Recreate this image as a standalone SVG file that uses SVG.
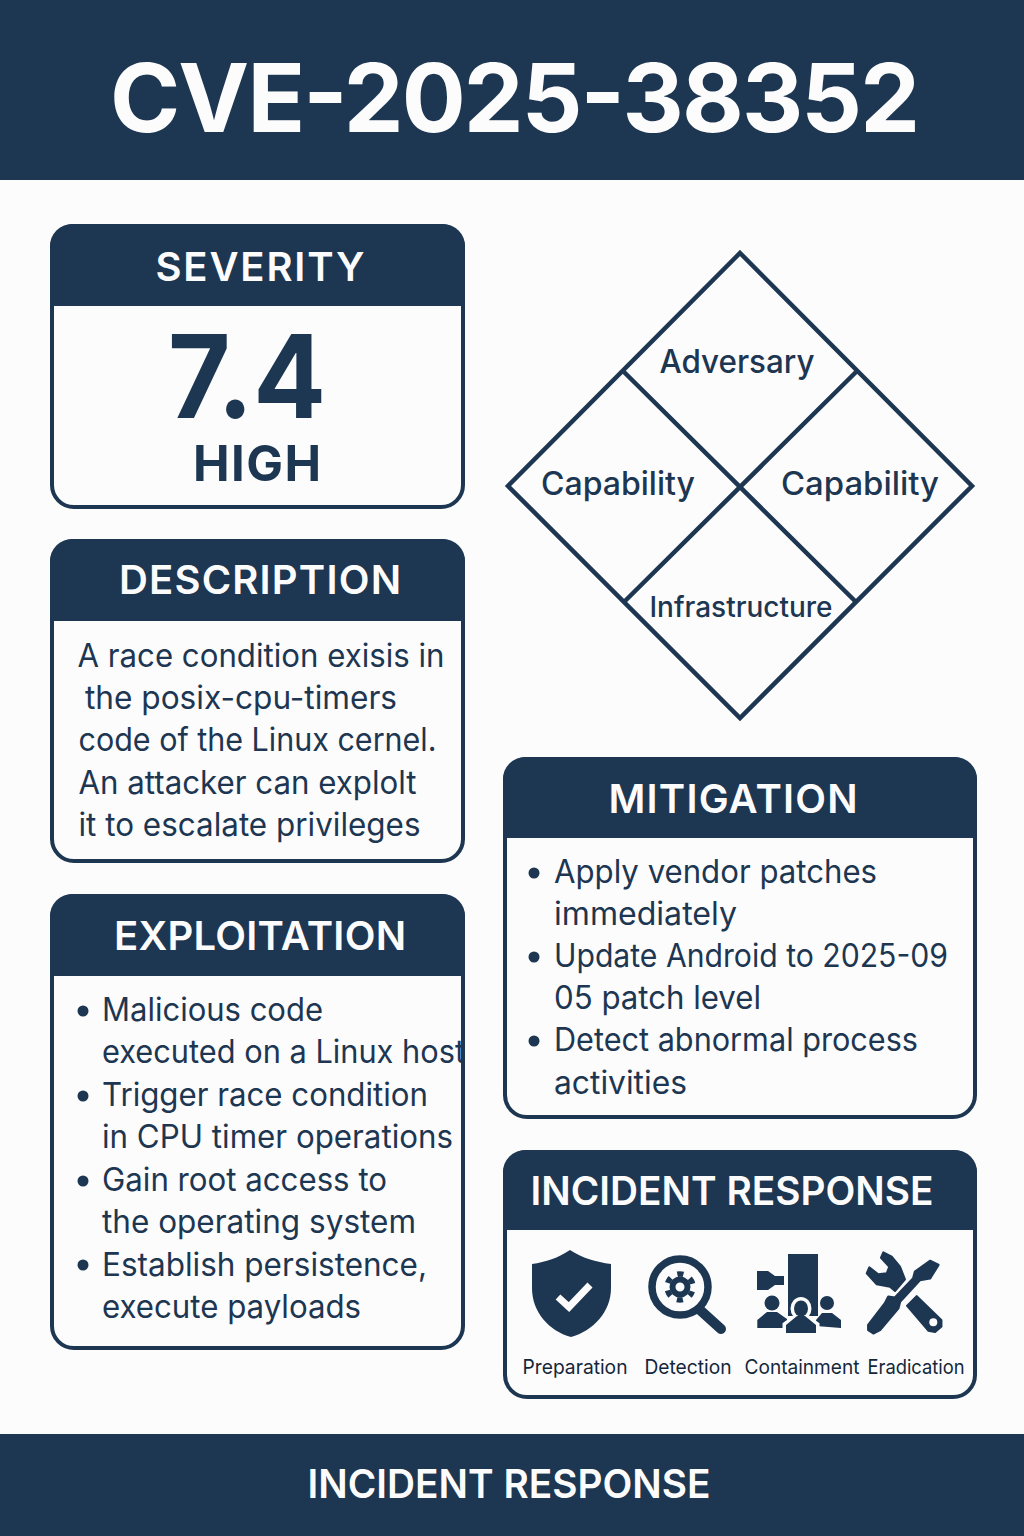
<svg xmlns="http://www.w3.org/2000/svg" width="1024" height="1536" viewBox="0 0 1024 1536">
<style>
text{font-family:Inter,"Noto Sans","Liberation Sans",sans-serif;fill:#1d3651}
.card{fill:#fcfcfd;stroke:#1d3651;stroke-width:4}
.hd{fill:#1d3651}
.ht{fill:#fcfcfd;font-weight:600;font-size:40px;text-anchor:middle}
.body{font-size:32px}
.dot{fill:#1d3651}
.lbl{font-size:32px;font-weight:500;text-anchor:middle}
.ic{font-size:20px;text-anchor:middle;fill:#14263a}
.dl{fill:none;stroke:#1d3651;stroke-width:4.5}
.i{fill:#1d3651}
</style>
<rect width="1024" height="1536" fill="#fcfcfd"/>
<g id="title"><rect width="1024" height="180" fill="#1d3651"/><text x="515" y="132" text-anchor="middle" font-size="95" font-weight="700" style="fill:#fcfcfd" textLength="810" lengthAdjust="spacing">CVE-2025-38352</text></g>
<g id="severity">
<rect class="card" x="52" y="226" width="411" height="281" rx="22"/>
<path class="hd" d="M50 306V246a22 22 0 0 1 22-22H443a22 22 0 0 1 22 22V306Z"/>
<text class="ht" x="260" y="281" textLength="209" lengthAdjust="spacing">SEVERITY</text>
<text x="247" y="418" text-anchor="middle" font-size="116" font-weight="700" textLength="158" lengthAdjust="spacingAndGlyphs">7.4</text>
<text x="257" y="481" text-anchor="middle" font-size="49" font-weight="700" textLength="128" lengthAdjust="spacing">HIGH</text>
</g>
<g id="description">
<rect class="card" x="52" y="541" width="411" height="320" rx="22"/>
<path class="hd" d="M50 621V561a22 22 0 0 1 22-22H443a22 22 0 0 1 22 22V621Z"/>
<text class="ht" x="260" y="594" textLength="282" lengthAdjust="spacing">DESCRIPTION</text>
<text class="body" x="77.500" y="667" textLength="367" lengthAdjust="spacingAndGlyphs">A race condition exisis in</text>
<text class="body" x="85" y="709" textLength="312" lengthAdjust="spacingAndGlyphs">the posix-cpu-timers</text>
<text class="body" x="78.500" y="751" textLength="358" lengthAdjust="spacingAndGlyphs">code of the Linux cernel.</text>
<text class="body" x="78.500" y="794" textLength="338" lengthAdjust="spacingAndGlyphs">An attacker can explolt</text>
<text class="body" x="78.500" y="836" textLength="342" lengthAdjust="spacingAndGlyphs">it to escalate privileges</text>
</g>
<g id="exploitation">
<rect class="card" x="52" y="896" width="411" height="452" rx="22"/>
<path class="hd" d="M50 976V916a22 22 0 0 1 22-22H443a22 22 0 0 1 22 22V976Z"/>
<text class="ht" x="260" y="950" textLength="292" lengthAdjust="spacing">EXPLOITATION</text>
<circle class="dot" cx="83" cy="1011" r="5.500"/><circle class="dot" cx="83" cy="1096" r="5.500"/><circle class="dot" cx="83" cy="1181" r="5.500"/><circle class="dot" cx="83" cy="1265" r="5.500"/>
<text class="body" x="102" y="1021" textLength="221" lengthAdjust="spacingAndGlyphs">Malicious code</text>
<text class="body" x="102" y="1063" textLength="363" lengthAdjust="spacingAndGlyphs">executed on a Linux host</text>
<text class="body" x="102" y="1106" textLength="326" lengthAdjust="spacingAndGlyphs">Trigger race condition</text>
<text class="body" x="102" y="1148" textLength="351" lengthAdjust="spacingAndGlyphs">in CPU timer operations</text>
<text class="body" x="102" y="1191" textLength="285" lengthAdjust="spacingAndGlyphs">Gain root access to</text>
<text class="body" x="102" y="1233" textLength="314" lengthAdjust="spacingAndGlyphs">the operating system</text>
<text class="body" x="102" y="1276" textLength="325" lengthAdjust="spacingAndGlyphs">Establish persistence,</text>
<text class="body" x="102" y="1318" textLength="259" lengthAdjust="spacingAndGlyphs">execute payloads</text>
</g>
<g id="diamond">
<path class="dl" d="M740 253L972 486L740 718L508 486Z"/>
<path class="dl" d="M624 372L856 602M856 372L624 602"/>
<text class="lbl" x="737" y="373" textLength="155" lengthAdjust="spacingAndGlyphs">Adversary</text>
<text class="lbl" x="618" y="495" textLength="154" lengthAdjust="spacingAndGlyphs">Capability</text>
<text class="lbl" x="860" y="495" textLength="158" lengthAdjust="spacingAndGlyphs">Capability</text>
<text class="lbl" x="741" y="617" style="font-size:28px" textLength="183" lengthAdjust="spacingAndGlyphs">Infrastructure</text>
</g>
<g id="mitigation">
<rect class="card" x="505" y="759" width="470" height="358" rx="22"/>
<path class="hd" d="M503 838V779a22 22 0 0 1 22-22H955a22 22 0 0 1 22 22V838Z"/>
<text class="ht" x="733" y="813" textLength="249" lengthAdjust="spacing">MITIGATION</text>
<circle class="dot" cx="534" cy="873" r="5.500"/><circle class="dot" cx="534" cy="957" r="5.500"/><circle class="dot" cx="534" cy="1041" r="5.500"/>
<text class="body" x="554" y="883" textLength="323" lengthAdjust="spacingAndGlyphs">Apply vendor patches</text>
<text class="body" x="554" y="925" textLength="183" lengthAdjust="spacingAndGlyphs">immediately</text>
<text class="body" x="554" y="967" textLength="394" lengthAdjust="spacingAndGlyphs">Update Android to 2025-09</text>
<text class="body" x="554" y="1009" textLength="207" lengthAdjust="spacingAndGlyphs">05 patch level</text>
<text class="body" x="554" y="1051" textLength="364" lengthAdjust="spacingAndGlyphs">Detect abnormal process</text>
<text class="body" x="554" y="1094" textLength="133" lengthAdjust="spacingAndGlyphs">activities</text>
</g>
<g id="incident-response">
<rect class="card" x="505" y="1152" width="470" height="245" rx="22"/>
<path class="hd" d="M503 1230V1172a22 22 0 0 1 22-22H955a22 22 0 0 1 22 22V1230Z"/>
<text class="ht" x="732" y="1205" textLength="403" lengthAdjust="spacingAndGlyphs">INCIDENT RESPONSE</text>
<g id="icon-preparation">
<path class="i" d="M570 1250C582 1258 596 1262 611 1264V1288C611 1312 593 1331 571 1337C549 1331 532 1312 532 1288V1264C546 1262 558 1258 570 1250Z"/>
<path d="M558 1297L569 1307L590 1285" fill="none" stroke="#fcfcfd" stroke-width="7"/>
</g>
<g id="icon-detection">
<circle cx="680" cy="1287" r="28" fill="none" stroke="#1d3651" stroke-width="7.500"/>
<path d="M700 1310L721 1329" stroke="#1d3651" stroke-width="10" stroke-linecap="round"/>
<circle cx="680" cy="1287" r="7.500" fill="none" stroke="#1d3651" stroke-width="6"/>
<circle cx="680" cy="1287" r="13" fill="none" stroke="#1d3651" stroke-width="5.500" stroke-dasharray="6 7.610" stroke-dashoffset="3" transform="rotate(30 680 1287)"/>
</g>
<g id="icon-containment">
<path class="i" d="M757 1271H768L775 1276H784V1285H775L768 1290H757Z"/>
<rect class="i" x="788" y="1254" width="30" height="62"/>
<circle class="i" cx="772" cy="1303" r="7.500"/>
<path class="i" d="M757.300 1328V1320L767 1312H777L787 1319V1328Z"/>
<circle class="i" cx="827" cy="1303" r="7"/>
<path class="i" d="M816 1320L822 1313H832L841 1320V1328L816 1326Z"/>
<g stroke="#fcfcfd" stroke-width="7">
<ellipse cx="801" cy="1308.500" rx="7" ry="8"/>
<path d="M786 1333V1325L797 1317H805L816 1325V1333Z"/>
</g>
<ellipse class="i" cx="801" cy="1308.500" rx="7" ry="8"/>
<path class="i" d="M786 1333V1325L797 1316H805L816 1325V1333Z"/>
</g>
<g id="icon-eradication">
<path class="i" stroke="#1d3651" stroke-width="2.500" stroke-linejoin="round" d="M868.300 1325L885 1303.300L888.300 1296.700L895 1297.700L913.300 1278.300L915 1271.700L930 1261L938.300 1265L930 1278.300L920 1280L900 1301.700L898.300 1308.300L880 1330L873.300 1333.300L868.300 1330Z"/>
<path class="i" d="M883.300 1252.300L891.700 1256.700L900 1266.700L905 1279.300L895 1291L890 1286.700L876.700 1284.300L866.700 1273.300L869.300 1267.300L878.300 1274.300L886.700 1273.300L889.300 1266.700L881 1257.700Z" stroke="#1d3651" stroke-width="2" stroke-linejoin="round"/>
<path class="i" stroke="#1d3651" stroke-width="1.500" stroke-linejoin="round" d="M906.700 1305.700L916.700 1295.700L941.700 1320V1326.700L935 1332.300L928.300 1331Z"/>
<circle cx="933.300" cy="1322.300" r="4" fill="#fcfcfd"/>
</g>
<text class="ic" x="575" y="1374" textLength="105" lengthAdjust="spacingAndGlyphs">Preparation</text>
<text class="ic" x="688" y="1374" textLength="87" lengthAdjust="spacingAndGlyphs">Detection</text>
<text class="ic" x="802" y="1374" textLength="115" lengthAdjust="spacingAndGlyphs">Containment</text>
<text class="ic" x="916" y="1374" textLength="97" lengthAdjust="spacingAndGlyphs">Eradication</text>
</g>
<g id="footer"><rect y="1434" width="1024" height="102" fill="#1d3651"/><text x="509" y="1498" text-anchor="middle" font-size="40" font-weight="600" style="fill:#fcfcfd" textLength="403" lengthAdjust="spacingAndGlyphs">INCIDENT RESPONSE</text></g>
<g id="connectors"/>
</svg>
